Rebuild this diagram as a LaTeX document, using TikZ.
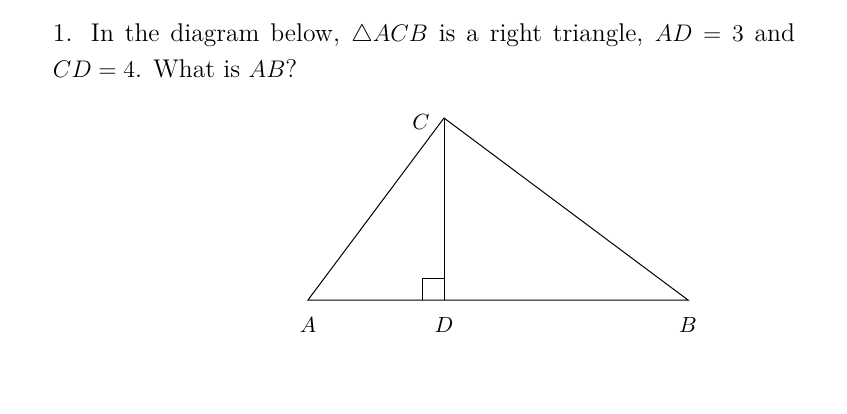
\documentclass[tikz,border=0pt]{standalone}
\usetikzlibrary{positioning}
\tikzset{%
  >=latex,
  side/.style={line width=0.5pt},%
  vertex label/.style={inner sep=0pt,outer sep=0pt,
    font=\fontsize{10.5}{12}\selectfont},%
  question/.style={inner sep=0pt,outer sep=0pt,anchor=base west,
    text width=371pt,align=justify,font=\fontsize{12.8}{18}\selectfont}%
}
\begin{document}
\begin{tikzpicture}[x=0.5pt,y=-0.5pt] % RIGHT TRIANGLE

\useasboundingbox (0,0) rectangle (847,413);

\node[question] (Q) at (53,41)
  {1. In the diagram below, $\triangle ACB$ is a right triangle, $AD = 3$ and\linebreak
   $CD = 4$. What is $AB$?};

\coordinate (A) at (308,300);
\coordinate (D) at (444,300);
\coordinate (C) at (444,118);
\coordinate (B) at (688,300);

\draw[side] (A) -- (B) -- (C) -- cycle;
\draw[side] (C) -- (D);
\draw[side] (D) ++(-22,0) |- ++(22,-22);

\node[vertex label,below=9pt of A] (labelA) {$A$};
\node[vertex label,below=9pt of D] (labelD) {$D$};
\node[vertex label,below=9pt of B] (labelB) {$B$};
\node[vertex label] (labelC) at (421,122) {$C$};

\end{tikzpicture}
\end{document}
